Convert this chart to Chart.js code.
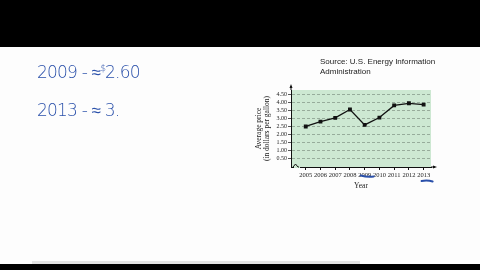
<!DOCTYPE html>
<html>
<head>
<meta charset="utf-8">
<script src="https://cdn.jsdelivr.net/npm/chart.js@4"></script>
<style>
  html, body { margin: 0; padding: 0; width: 480px; height: 270px; overflow: hidden; background: #fdfdfd; }
  #wrap { position: relative; width: 480px; height: 270px; }
  #topbar { position: absolute; left: 0; top: 0; width: 480px; height: 47px; background: #000; }
  #botbar { position: absolute; left: 0; top: 264px; width: 480px; height: 6px; background: #000; }
  #scroll { position: absolute; left: 32px; top: 261px; width: 328px; height: 3px; background: #e4e4e4; }
  .hand { position: absolute; color: #2a50aa; font-family: "DejaVu Sans", sans-serif; font-weight: 300; font-size: 17px; letter-spacing: -0.8px; white-space: nowrap; }
  .hand sup { font-size: 9px; vertical-align: 7px; }
  #source { position: absolute; left: 320px; top: 57px; font-family: "Liberation Sans", Arial, sans-serif; font-size: 8px; line-height: 9.5px; color: #222; }
  canvas { position: absolute; left: 0; top: 0; }
</style>
</head>
<body>
<div id="wrap">
  <canvas id="gasChart" width="480" height="270"></canvas>
  <div id="topbar"></div>
  <div id="scroll"></div>
  <div id="botbar"></div>
  <div class="hand" style="left:37px; top:62px;">2009 - ≈<sup>$</sup>2.60</div>
  <div class="hand" style="left:37px; top:100px;">2013 - ≈ 3.</div>
  <div id="source">Source: U.S. Energy Information<br>Administration</div>
</div>
<script>
// Data
const years = [2005, 2006, 2007, 2008, 2009, 2010, 2011, 2012, 2013];
const prices = [2.50, 2.80, 3.03, 3.55, 2.60, 3.05, 3.80, 3.93, 3.85];
const yTickValues = [0.5, 1.0, 1.5, 2.0, 2.5, 3.0, 3.5, 4.0, 4.5];
const markedYears = [2009, 2013];

const serif = "'Liberation Serif', 'Times New Roman', serif";

// green plot background
const greenArea = {
  id: "greenArea",
  beforeDraw(chart) {
    const a = chart.chartArea;
    const ctx = chart.ctx;
    ctx.save();
    ctx.fillStyle = "#cde8d2";
    ctx.fillRect(a.left, a.top, a.right - a.left, a.bottom - a.top);
    ctx.restore();
  }
};

// arrow heads, axis break and the blue pen marks
const extras = {
  id: "extras",
  afterDraw(chart) {
    const a = chart.chartArea;
    const ctx = chart.ctx;
    const xs = chart.scales.x;
    ctx.save();
    ctx.strokeStyle = "#111";
    ctx.fillStyle = "#111";
    ctx.lineWidth = 1;
    // y axis arrow
    ctx.beginPath();
    ctx.moveTo(a.left, a.top);
    ctx.lineTo(a.left, a.top - 4);
    ctx.stroke();
    ctx.beginPath();
    ctx.moveTo(a.left, a.top - 6);
    ctx.lineTo(a.left - 1.5, a.top - 2);
    ctx.lineTo(a.left + 1.5, a.top - 2);
    ctx.fill();
    // x axis arrow
    ctx.beginPath();
    ctx.moveTo(a.right, a.bottom);
    ctx.lineTo(a.right + 4, a.bottom);
    ctx.stroke();
    ctx.beginPath();
    ctx.moveTo(a.right + 6, a.bottom);
    ctx.lineTo(a.right + 2, a.bottom - 1.5);
    ctx.lineTo(a.right + 2, a.bottom + 1.5);
    ctx.fill();
    // axis break
    ctx.fillStyle = "#cde8d2";
    ctx.fillRect(a.left + 3, a.bottom - 4, 6, 5);
    ctx.beginPath();
    ctx.moveTo(a.left + 2, a.bottom);
    ctx.lineTo(a.left + 4.5, a.bottom - 3);
    ctx.lineTo(a.left + 7, a.bottom);
    ctx.lineTo(a.left + 8, a.bottom);
    ctx.stroke();
    // handwritten underlines
    ctx.strokeStyle = "#2a50aa";
    ctx.lineWidth = 2;
    ctx.lineCap = "round";
    const x09 = xs.getPixelForValue(markedYears[0]);
    ctx.beginPath();
    ctx.moveTo(x09 - 4, a.bottom + 8.5);
    ctx.quadraticCurveTo(x09 + 3, a.bottom + 10.5, x09 + 9, a.bottom + 9.5);
    ctx.stroke();
    const x13 = xs.getPixelForValue(markedYears[1]);
    ctx.beginPath();
    ctx.moveTo(x13 - 2, a.bottom + 14);
    ctx.quadraticCurveTo(x13 + 4, a.bottom + 13, x13 + 9, a.bottom + 14.5);
    ctx.stroke();
    ctx.restore();
  }
};

const ctx = document.getElementById("gasChart").getContext("2d");

const chartConfig = {
  type: "line",
  data: {
    datasets: [
      {
        label: "Average price",
        data: years.map((y, i) => ({ x: y, y: prices[i] })),
        borderColor: "#111",
        backgroundColor: "#111",
        borderWidth: 1.3,
        pointRadius: 1.8,
        pointStyle: "rect",
        tension: 0
      }
    ]
  },
  options: {
    responsive: false,
    animation: false,
    layout: { padding: { left: 255, right: 49, top: 90, bottom: 79 } },
    plugins: {
      legend: { display: false },
      tooltip: { enabled: false }
    },
    scales: {
      x: {
        type: "linear",
        min: 2004,
        max: 2013.5,
        afterBuildTicks: scale => { scale.ticks = years.map(v => ({ value: v })); },
        afterFit: scale => { scale.height = 24; },
        ticks: {
          callback: v => String(v),
          font: { family: serif, size: 6.5 },
          color: "#222",
          padding: 1,
          maxRotation: 0,
          autoSkip: false
        },
        grid: { drawOnChartArea: false, tickLength: 3, color: "#111" },
        border: { color: "#111", width: 1 },
        title: {
          display: true,
          text: "Year",
          font: { family: serif, size: 7.5 },
          color: "#222",
          padding: { top: 1, bottom: 0 }
        }
      },
      y: {
        min: 0,
        max: 4.75,
        afterBuildTicks: scale => { scale.ticks = yTickValues.map(v => ({ value: v })); },
        afterFit: scale => { scale.width = 36; },
        ticks: {
          callback: v => v.toFixed(2),
          font: { family: serif, size: 6 },
          color: "#222",
          padding: 1,
          autoSkip: false
        },
        grid: {
          color: "#7f9284",
          lineWidth: 0.7,
          tickLength: 3,
          tickColor: "#111"
        },
        border: { color: "#111", width: 1, dash: [3, 2] },
        title: {
          display: true,
          text: ["Average price", "(in dollars per gallon)"],
          font: { family: serif, size: 7.5, lineHeight: 1.1 },
          color: "#222",
          padding: 0
        }
      }
    }
  },
  plugins: [greenArea, extras]
};

const gasChart = new Chart(ctx, chartConfig);
</script>
</body>
</html>
